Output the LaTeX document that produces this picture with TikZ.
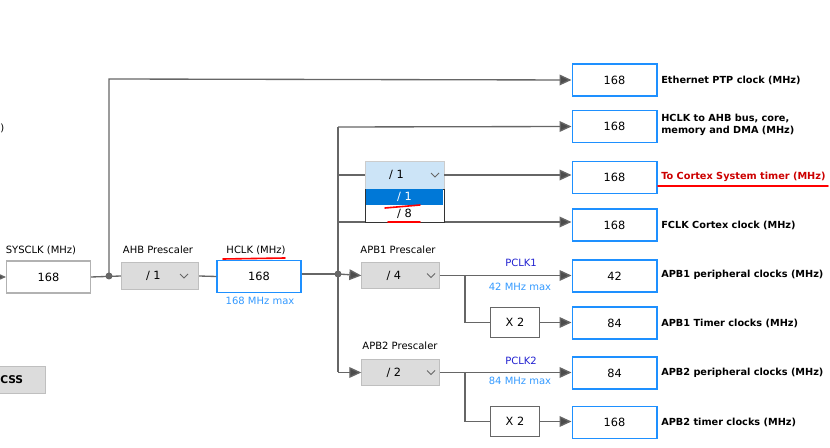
\documentclass[tikz,border=0pt]{standalone}
\usepackage{fontspec}
\setmainfont{DejaVu Sans}
\usetikzlibrary{arrows.meta}
\definecolor{ln}{HTML}{666666}
\definecolor{bl}{HTML}{1E90FF}
\definecolor{gb}{HTML}{DCDCDC}
\definecolor{lb}{HTML}{CCE4F7}
\definecolor{sel}{HTML}{0078D7}
\definecolor{pc}{HTML}{2020D0}
\definecolor{mx}{HTML}{3399FF}
\begin{document}
\begin{tikzpicture}[x=0.75pt,y=-0.75pt,
  lab/.style={font=\fontsize{7.5}{9}\selectfont},
  obox/.style={draw=bl,line width=1pt,fill=white,minimum width=63.5pt,minimum height=24pt,inner sep=0pt,font=\fontsize{8.5}{10}\selectfont},
  plain/.style={draw=gray!60,line width=0.8pt,fill=white,minimum width=63pt,minimum height=24pt,inner sep=0pt,font=\fontsize{8.5}{10}\selectfont},
  pre/.style={draw=gray!50,line width=0.8pt,fill=gb,minimum width=58pt,minimum height=20pt,inner sep=0pt,font=\fontsize{8.5}{10}\selectfont},
  mul/.style={draw=ln,line width=0.7pt,fill=white,minimum width=37pt,minimum height=23pt,inner sep=0pt,font=\fontsize{8.5}{10}\selectfont},
  desc/.style={anchor=west,font=\bfseries\fontsize{7.3}{9}\selectfont,align=left,inner sep=0pt},
  wire/.style={draw=ln,line width=1pt},
  arr/.style={wire,-{Triangle[length=9pt,width=8pt,fill=black!70]}},
  redmark/.style={draw=red,line width=1.2pt,line cap=round},
  chev/.style={draw=ln,line width=0.6pt}]
\useasboundingbox (0,0) rectangle (830,448);
\begin{scope}
\clip (0,0) rectangle (830,448);
% CSS
\node[draw=gray!50,fill=gb,minimum width=60pt,minimum height=20pt,inner sep=0pt] (css) at (5,380) {};
\node[anchor=west,inner sep=0pt,font=\bfseries\fontsize{8}{10}\selectfont] (csst) at (0,380) {CSS};
\node[lab,anchor=west,inner sep=0pt] (par) at (0,128) {)};
% left nodes
\node[plain] (sys) at (48.5,277) {168};
\node[lab] (sysl) at (41,250) {SYSCLK (MHz)};
\node[pre] (ahb) at (160,276) {\hspace{-10pt}/ 1};
\node[lab] (ahbl) at (158,250) {AHB Prescaler};
\node[obox,minimum width=63pt] (hclk) at (259,276.5) {168};
\node[lab] (hclkl) at (256,250) {HCLK (MHz)};
\node[lab,text=mx] (hmax) at (260,301) {168 MHz max};
\coordinate (in) at (-5,277);
\draw[arr] (in) -- (sys.west);
\coordinate (d1) at (109,276);
\coordinate (d2) at (338,274);
\fill[ln] (d1) circle (3.5);
\fill[ln] (d2) circle (3.5);
\draw[wire] (sys.east) -- (ahb.west);
\draw[wire] (ahb.east) -- (hclk.west);
\draw[wire] (hclk.east|-d2) -- (d2);
% right output boxes
\node[obox] (eth) at (614.5,80) {168};
\node[obox] (ahbo) at (614.5,126.5) {168};
\node[obox] (cort) at (614.5,177.5) {168};
\node[obox] (fclk) at (614.5,225) {168};
\node[obox] (p1) at (614.5,276) {42};
\node[obox] (t1) at (614.5,323) {84};
\node[obox] (p2) at (614.5,373) {84};
\node[obox] (t2) at (614.5,422.5) {168};
\node[desc] (ethl) at (661,80) {Ethernet PTP clock (MHz)};
\node[desc] (ahbol) at (661,125) {HCLK to AHB bus, core,\\memory and DMA (MHz)};
\node[desc,text=red!80!black] (cortl) at (661,177) {To Cortex System timer (MHz)};
\node[desc] (fclkl) at (661,225) {FCLK Cortex clock (MHz)};
\node[desc] (p1l) at (661,275) {APB1 peripheral clocks (MHz)};
\node[desc] (t1l) at (661,323) {APB1 Timer clocks (MHz)};
\node[desc] (p2l) at (661,373) {APB2 peripheral clocks (MHz)};
\node[desc] (t2l) at (661,422) {APB2 timer clocks (MHz)};
% ethernet path
\draw[arr] (d1) -- (109,79) -- (eth.west);
% HCLK bus
\draw[wire] (338,127) -- (338,372);
\draw[arr] (338,127) -- (ahbo.west);
% cortex dropdown
\node[draw=gray!40,fill=lb,minimum width=59pt,minimum height=21pt,inner sep=0pt,font=\fontsize{8.5}{10}\selectfont] (dd) at (404.5,175) {\hspace{-12pt}/ 1};
\draw[wire] (338,175) -- (dd.west);
\draw[arr] (dd.east) -- (cort.west|-dd.east);
\draw[arr] (338,222) -- (fclk.west|-0,222);
\node[draw=black!80,fill=white,minimum width=59pt,minimum height=24.5pt,inner sep=0pt] (list) at (404.5,205.5) {};
\node[fill=sel,minimum width=58pt,minimum height=11.5pt,inner sep=0pt,text=white,font=\fontsize{8.5}{10}\selectfont] (o1) at (404.5,197) {/ 1};
\node[inner sep=0pt,font=\fontsize{8.5}{10}\selectfont] (o8) at (404.5,214) {/ 8};
\draw[redmark] (385,208) -- (420,205);
\draw[redmark] (388,222) -- (420,222);
% APB1
\node[pre] (apb1) at (400.5,275.5) {\hspace{-10pt}/ 4};
\node[lab] (apb1l) at (398,250) {APB1 Prescaler};
\draw[arr] (d2) -- (apb1.west);
\draw[arr] (apb1.east) -- (p1.west|-apb1.east);
\node[lab,text=pc] (pclk1) at (521,263) {PCLK1};
\node[lab,text=mx] (m1) at (520,287) {42 MHz max};
\coordinate (b1) at (465,275.5);
\node[mul] (x1) at (515,322.5) {X 2};
\draw[wire] (b1) -- (465,322.5) -- (x1.west);
\draw[arr] (x1.east) -- (t1.west|-x1.east);
% APB2
\node[pre] (apb2) at (400.5,372.5) {\hspace{-10pt}/ 2};
\node[lab] (apb2l) at (400,346) {APB2 Prescaler};
\draw[arr] (338,372.5) -- (apb2.west);
\draw[arr] (apb2.east) -- (p2.west|-apb2.east);
\node[lab,text=pc] (pclk2) at (521,361) {PCLK2};
\node[lab,text=mx] (m2) at (520,381) {84 MHz max};
\coordinate (b2) at (465,372.5);
\node[mul] (x2) at (515,421.5) {X 2};
\draw[wire] (b2) -- (465,421.5) -- (x2.west);
\draw[arr] (x2.east) -- (t2.west|-x2.east);
% chevrons
\foreach \cx/\cy in {184/276, 435/175, 431/275.5, 431/372.5}
  \draw[chev] (\cx-4,\cy-2) -- (\cx,\cy+2) -- (\cx+4,\cy-2);
% red marks
\draw[redmark] (223,259) -- (285,258);
\draw[redmark] (658,186) -- (828,186);
\end{scope}
\end{tikzpicture}
\end{document}
